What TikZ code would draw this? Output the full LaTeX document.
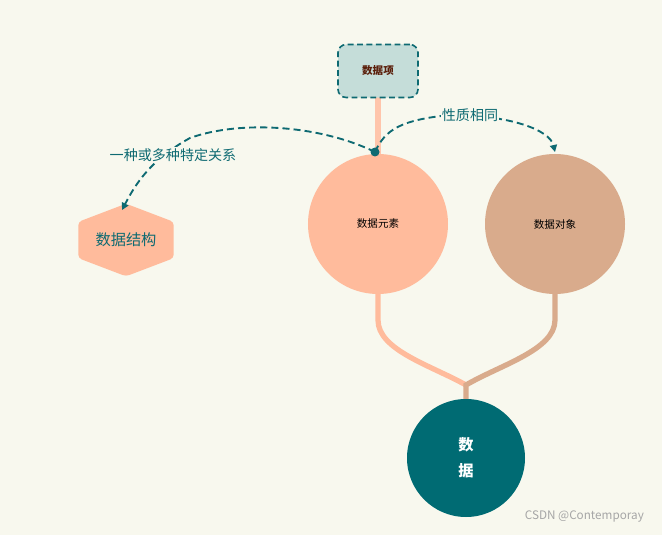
\documentclass[tikz,border=0pt]{standalone}
\usepackage{fontspec}
\setmainfont{Noto Sans CJK SC}
\usetikzlibrary{shapes.geometric,arrows.meta}
\definecolor{bg}{HTML}{F8F8EE}
\definecolor{teal}{HTML}{0E6A72}
\definecolor{dteal}{HTML}{006B73}
\definecolor{peach}{HTML}{FFBB9C}
\definecolor{tan}{HTML}{D9AB8C}
\definecolor{boxfill}{HTML}{C5DDD9}
\begin{document}
\begin{tikzpicture}[x=0.03cm,y=-0.03cm,
  circ/.style={circle,draw=none,inner sep=0pt},
  rel/.style={teal,line width=1.6pt,dash pattern=on 6pt off 3.5pt,-{Triangle[length=6pt,width=6pt]}},
  lbl/.style={fill=bg,text=teal,inner sep=1pt,font=\fontsize{12}{14}\selectfont}]
\fill[bg] (0,0) rectangle (662,535);
\useasboundingbox (0,0) rectangle (662,535);
% branches
\draw[peach,line width=4.5pt] (378,290) -- (378,320) .. controls (378,350) and (430,365) .. (466,385);
\draw[tan,line width=4.5pt] (555,290) -- (555,320) .. controls (555,350) and (500,365) .. (466,385) -- (466,402);
\draw[peach!85!white,line width=5pt] (378,85) -- (378,156);
\node[circ,fill=peach,minimum size=140\pgflinewidth*0+4.2cm,font=\small] (elem) at (378,224) {数据元素};
\node[circ,fill=tan,minimum size=4.2cm,font=\small] (obj) at (555,224) {数据对象};
\node[circ,fill=dteal,minimum size=3.54cm,text=white,font=\bfseries\fontsize{13}{22}\selectfont,align=center] (data) at (466,458) {数\\据};
\node[draw=teal,dashed,line width=1.4pt,dash pattern=on 5pt off 3pt,fill=boxfill,rounded corners=7pt,minimum width=2.4cm,minimum height=1.59cm,font=\small\bfseries,text={rgb,255:red,90;green,30;blue,10}] (item) at (378,71) {数据项};
\node[regular polygon,regular polygon sides=6,shape border rotate=30,fill=peach,minimum size=3.3cm,inner sep=0pt,rounded corners=3pt,xscale=1.0,yscale=0.66,text=teal,font=\fontsize{13}{15}\selectfont] (struct) at (126,240) {};
\node[text=teal,font=\fontsize{13}{15}\selectfont] (structlbl) at (126,240) {数据结构};
\coordinate (dot) at (375,152);
\draw[rel] (dot) .. controls (320,125) and (240,120) .. (190,138) .. controls (150,160) and (135,185) .. (122,210);
\node[lbl] (l1) at (173,155) {一种或多种特定关系};
\draw[rel] (dot) .. controls (385,130) and (400,120) .. (450,115) .. controls (510,115) and (550,130) .. (555,152);
\node[lbl] (l2) at (470,115) {性质相同};
\fill[teal] (dot) circle (4.5);
\node[text=gray!70,font=\fontsize{10}{12}\selectfont,anchor=east] (wm) at (648,516) {CSDN @Contemporay};
\end{tikzpicture}
\end{document}
